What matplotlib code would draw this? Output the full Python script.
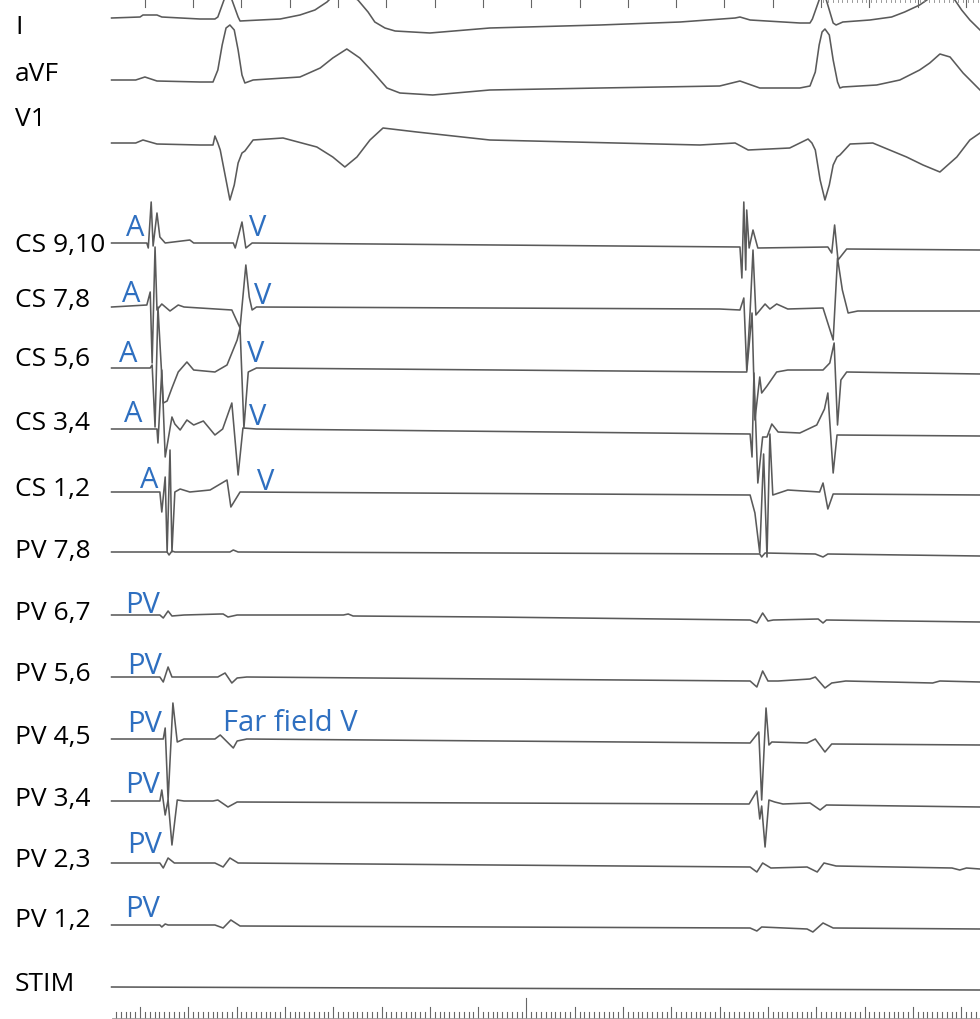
import numpy as np
import matplotlib.pyplot as plt

plt.rcParams['font.family'] = ['Open Sans', 'DejaVu Sans']

# channel names, top to bottom
channels = ["I", "aVF", "V1", "CS 9,10", "CS 7,8", "CS 5,6", "CS 3,4", "CS 1,2",
            "PV 7,8", "PV 6,7", "PV 5,6", "PV 4,5", "PV 3,4", "PV 2,3", "PV 1,2", "STIM"]

# traces: (time in ms, deflection, positive = up)
I_trace = [(0, 1), (59, 2), (65, 4), (94, 4), (104, 2), (183, 0), (214, 0), (220, 2), (241, 30),
           (262, 2), (266, -2), (307, -1), (349, 0), (390, 4), (421, 9), (446, 17), (473, 30),
           (510, 19), (531, 7), (545, -3), (566, -9), (587, -12), (659, -14), (783, -9),
           (1011, -6), (1177, -3), (1291, 1), (1301, 2), (1322, -1), (1425, -4), (1446, -4),
           (1451, 0), (1473, 30), (1494, -4), (1500, -6), (1514, -3), (1570, -1), (1615, 2),
           (1642, 7), (1673, 14), (1688, 19), (1715, 30), (1746, 19), (1760, 9), (1777, -1),
           (1798, -11)]
aVF_trace = [(0, 0), (50, 0), (69, 3), (94, -1), (183, -2), (210, -2), (220, 10), (229, 35),
             (237, 52), (245, 55), (254, 50), (262, 30), (270, 5), (276, -3), (293, 0),
             (390, 3), (432, 12), (458, 22), (487, 31), (514, 22), (541, 8), (570, -8),
             (597, -13), (665, -15), (783, -10), (1011, -8), (1259, -6), (1301, -1), (1342, -8),
             (1425, -8), (1446, -6), (1457, 8), (1465, 35), (1471, 48), (1477, 51), (1486, 45),
             (1494, 20), (1503, -2), (1508, -8), (1514, -7), (1584, -5), (1632, 0), (1673, 10),
             (1694, 17), (1715, 26), (1736, 23), (1763, 7), (1798, -10)]
V1_trace = [(0, 0), (50, 0), (65, 3), (94, -1), (183, -2), (210, -2), (214, 7), (220, 0),
            (225, -7), (237, -37), (245, -57), (254, -42), (262, -20), (270, -10), (276, -8),
            (293, 3), (355, 5), (425, -4), (458, -14), (483, -24), (508, -14), (535, 3),
            (562, 15), (632, 11), (783, 3), (1218, -2), (1291, 0), (1318, -7), (1404, -5),
            (1442, 4), (1450, 0), (1457, -7), (1467, -37), (1477, -57), (1486, -42),
            (1494, -22), (1502, -14), (1508, -12), (1529, -1), (1576, 0), (1646, -14),
            (1680, -22), (1715, -29), (1750, -14), (1777, 3), (1798, 10)]
CS910_trace = [(0, 0), (73, 0), (76, -5), (82, 41), (86, -3), (94, 30), (100, 6), (111, 0),
               (162, 3), (170, 0), (252, 0), (256, -5), (270, 21), (278, -5), (291, 0),
               (1301, -4), (1305, -35), (1309, 41), (1313, -27), (1315, 33), (1320, -5),
               (1328, 13), (1338, -5), (1483, -4), (1491, -10), (1497, 18), (1504, -17),
               (1522, -6), (1798, -7)]
CS78_trace = [(0, 0), (73, 2), (80, 15), (84, -56), (90, 60), (94, -3), (104, 3), (121, -4),
              (138, 2), (150, 0), (249, -3), (266, -21), (278, 42), (285, 10), (291, -3),
              (300, 0), (1259, -2), (1301, -3), (1309, 9), (1315, -63), (1322, -5), (1328, 57),
              (1334, -8), (1353, 3), (1363, -2), (1377, 3), (1400, -2), (1473, -1), (1494, -33),
              (1503, 49), (1513, 17), (1525, -6), (1545, -4), (1798, -4)]
CS56_trace = [(0, 0), (80, 0), (84, 3), (90, -59), (96, 61), (107, -35), (115, -33), (125, -20),
              (138, -4), (156, 6), (170, -2), (214, -4), (239, 3), (260, 28), (266, 40),
              (274, -60), (283, -4), (300, 0), (1301, -4), (1315, -4), (1326, 55), (1332, -52),
              (1342, -9), (1346, -25), (1357, -18), (1377, -4), (1400, -2), (1473, -2),
              (1487, 5), (1496, 25), (1503, -57), (1510, -12), (1522, -4), (1798, -6)]
CS34_trace = [(0, 0), (94, 0), (96, -14), (104, 59), (111, -28), (125, 12), (131, 5), (142, -1),
              (156, 9), (170, 4), (190, 8), (214, -6), (230, 0), (249, 26), (262, -46),
              (272, 1), (300, 0), (1322, -5), (1326, -28), (1330, 56), (1338, -54), (1348, -8),
              (1357, -8), (1367, 5), (1380, -3), (1425, -4), (1460, 4), (1476, 20), (1483, 36),
              (1494, -44), (1502, -6), (1798, -7)]
CS12_trace = [(0, 0), (100, 0), (104, -20), (111, 15), (115, -60), (121, 42), (125, -60),
              (131, 0), (142, 3), (162, 0), (204, 2), (239, 12), (247, -15), (266, 0),
              (1322, -3), (1332, -21), (1342, -61), (1350, 38), (1357, -65), (1363, 58),
              (1369, -3), (1400, 2), (1466, 0), (1473, 9), (1483, -17), (1494, -2), (1798, -3)]
PV78_trace = [(0, 0), (115, 0), (119, -3), (125, 1), (131, 0), (245, 0), (252, 2), (262, 0),
              (1342, -2), (1346, -5), (1353, -1), (1457, -2), (1473, -5), (1483, -2), (1798, -4)]
PV67_trace = [(0, 0), (100, 0), (107, -3), (117, 4), (125, -1), (150, 0), (225, 1), (231, 1),
              (241, -2), (260, 0), (480, 0), (490, 1), (500, -1), (783, -2), (1322, -5),
              (1336, -8), (1348, 2), (1359, -6), (1370, -5), (1463, -4), (1473, -8), (1480, -5),
              (1798, -7)]
PV56_trace = [(0, 0), (100, 0), (107, -5), (117, 10), (125, 0), (220, 0), (235, 4), (249, -6),
              (260, -1), (280, 0), (1322, -4), (1336, -10), (1348, 6), (1359, -4), (1380, -4),
              (1446, -2), (1457, 0), (1477, -11), (1491, -6), (1520, -4), (1700, -6), (1715, -4),
              (1798, -5)]
PV45_trace = [(0, 0), (107, 0), (111, 11), (117, -61), (127, 36), (136, -3), (150, 0), (214, 0),
              (225, 4), (252, -9), (260, -2), (280, 0), (1322, -4), (1340, 7), (1346, -61),
              (1355, 31), (1361, -6), (1367, -3), (1440, -4), (1457, 0), (1477, -13), (1491, -5),
              (1798, -6)]
PV34_trace = [(0, 0), (100, 0), (104, 11), (111, -14), (117, 1), (125, -44), (136, 1), (150, 0),
              (210, 0), (220, 1), (241, -6), (260, -1), (1320, -3), (1336, 10), (1342, -18),
              (1346, -5), (1353, -46), (1361, 1), (1373, -1), (1390, -3), (1446, -2), (1467, -9),
              (1480, -4), (1798, -6)]
PV23_trace = [(0, 0), (100, 0), (107, -5), (117, 5), (130, 0), (214, 0), (231, -4), (245, 5),
              (262, 0), (1322, -4), (1336, -9), (1348, 0), (1365, -5), (1440, -4), (1461, -9),
              (1475, 0), (1500, -3), (1740, -5), (1756, -7), (1770, -5), (1798, -6)]
PV12_trace = [(0, 0), (100, 0), (104, -2), (111, 1), (117, 0), (214, 0), (231, -3), (247, 5),
              (266, -1), (1322, -3), (1336, -6), (1346, -2), (1440, -4), (1452, -7), (1473, 2),
              (1494, -3), (1798, -4)]
STIM_trace = [(0, 0), (1798, -3)]

traces = [I_trace, aVF_trace, V1_trace, CS910_trace, CS78_trace, CS56_trace, CS34_trace,
          CS12_trace, PV78_trace, PV67_trace, PV56_trace, PV45_trace, PV34_trace, PV23_trace,
          PV12_trace, STIM_trace]

# blue annotations: time (ms) of each marker
a_times = [49, 40, 34, 45, 78]
v_times = [303, 312, 299, 303, 320]
pv_times = [65, 69, 69, 65, 69, 65]

# timing rulers (ms)
ruler_start = 59   # first 100 ms mark on the bottom ruler
top_start = 69     # first mark on the top ruler

# layout (pixel rows of the page)
baselines = [19, 80, 143, 243, 307, 368, 429, 492, 552, 615, 677, 739, 801, 863, 925, 987]
label_rows = [25, 72, 117, 243, 298, 357, 421, 487, 549, 611, 672, 735, 797, 858, 918, 982]
a_rows = [226, 292, 352, 412, 478]
v_rows = [226, 294, 352, 415, 480]
pv_rows = [603, 664, 722, 783, 843, 907]

trace_color = '#5a5a5a'
blue = '#2e6fc0'

fig = plt.figure(figsize=(9.8, 10.19), dpi=100)
ax = fig.add_axes([0, 0, 1, 1])
ax.set_xlim(-231, 1798)
ax.set_ylim(1019, 0)
ax.axis('off')

for base, tr in zip(baselines, traces):
    t = np.array([p[0] for p in tr])
    v = np.array([p[1] for p in tr])
    ax.plot(t, base - v, color=trace_color, lw=1.15, solid_joinstyle='round')

# channel names on the left
for name, row in zip(channels, label_rows):
    ax.text(-200, row + 9, name, fontsize=19, color='black', ha='left', va='baseline')

for t, row in zip(a_times, a_rows):
    ax.text(t, row + 10, "A", fontsize=21, color=blue, ha='center', va='baseline')
for t, row in zip(v_times, v_rows):
    ax.text(t, row + 10, "V", fontsize=21, color=blue, ha='center', va='baseline')
for t, row in zip(pv_times, pv_rows):
    ax.text(t, row + 10, "PV", fontsize=21, color=blue, ha='center', va='baseline')
ax.text(231, 721 + 10, "Far field V", fontsize=21, color=blue, ha='left', va='baseline')

# bottom timing ruler: 10 ms ticks, longer every 100 ms
ticks = np.arange(ruler_start - 50, 1798, 10)
for i, tk in enumerate(ticks):
    k = i - 5
    if k == 80:
        h = 20
    elif k % 10 == 0:
        h = 11
    else:
        h = 6
    ax.plot([tk, tk], [1018, 1018 - h], color='#666666', lw=0.8)
ax.plot([0, 1798], [1018, 1018], color='#999999', lw=0.6)

# top timing ruler
for tk in np.arange(top_start, 1798, 100):
    ax.plot([tk, tk], [0, 7], color='#666666', lw=0.8)
for tk in np.arange(1473, 1798, 10):
    ax.plot([tk, tk], [0, 2], color='#888888', lw=0.6)

plt.savefig('out.png', dpi=100)
